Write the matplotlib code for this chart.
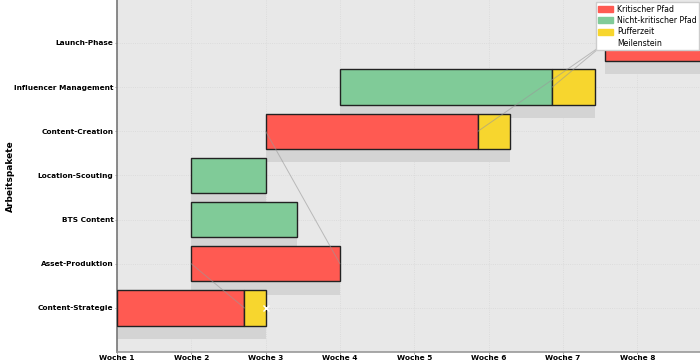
import numpy as np
import matplotlib.pyplot as plt
from matplotlib.patches import Patch
from matplotlib.lines import Line2D

# arbeitspakete (bottom to top), values in days
tasks = ['Content-Strategie', 'Asset-Produktion', 'BTS Content', 'Location-Scouting',
         'Content-Creation', 'Influencer Management', 'Launch-Phase']
start = [0, 7, 7, 7, 14, 21, 46]
duration = [12, 14, 10, 7, 20, 20, 10]
buffer = [2, 0, 0, 0, 3, 4, 0]
critical = [True, True, False, False, True, False, True]

# dependencies: (predecessor, successor)
deps = [(0, 1), (1, 4), (4, 6), (5, 6)]
milestones = [(14, 0)]

week_labels = ['Woche %d' % i for i in range(1, 9)]

c_crit = '#FF5A52'
c_norm = '#80CB98'
c_buf = '#F7D62E'

fig = plt.figure(figsize=(7, 3.63), dpi=100)
ax = fig.add_axes([0.167, 0.030, 0.833, 0.97])
ax.set_facecolor('#e8e8e8')

y = np.arange(len(tasks))
h = 0.8

for i in range(len(tasks)):
    total = duration[i] + buffer[i]
    # shadow
    ax.barh(y[i] - 0.3, total, left=start[i], height=h, color='#d4d4d4', zorder=1)
    col = c_crit if critical[i] else c_norm
    ax.barh(y[i], duration[i], left=start[i], height=h, color=col,
            edgecolor='#222222', linewidth=1.0, zorder=3)
    if buffer[i] > 0:
        ax.barh(y[i], buffer[i], left=start[i] + duration[i], height=h, color=c_buf,
                edgecolor='#222222', linewidth=1.0, zorder=3)

for a, b in deps:
    ax.plot([start[a] + duration[a], start[b]], [y[a], y[b]], color='#999999',
            lw=0.7, alpha=0.6, zorder=4)

for mx, my in milestones:
    ax.plot(mx, my, marker='x', color='white', ms=5, mew=1.0, zorder=5)

ax.set_xlim(0, 54.9)
ax.set_ylim(-1, 6.97)
ax.set_xticks(np.arange(0, 56, 7))
ax.set_xticklabels(week_labels, fontsize=5.3, fontweight='bold')
ax.set_yticks(y)
ax.set_yticklabels(tasks, fontsize=5.3, fontweight='bold')
ax.tick_params(length=1.5, width=0.6, colors='#999999', labelcolor='black', pad=1)
ax.tick_params(axis='x', pad=0.3)
ax.set_ylabel('Arbeitspakete', fontsize=6.5, fontweight='bold')
ax.yaxis.set_label_coords(-0.175, 0.5)

ax.grid(True, color='#d8d8d8', linestyle=':', linewidth=0.6, zorder=0)
ax.set_axisbelow(True)
for s in ['top', 'right']:
    ax.spines[s].set_visible(False)
ax.spines['left'].set_color('#777777')
ax.spines['left'].set_linewidth(1.2)
ax.spines['bottom'].set_color('#999999')
ax.spines['bottom'].set_linewidth(1.2)

handles = [Patch(color=c_crit, label='Kritischer Pfad'),
           Patch(color=c_norm, label='Nicht-kritischer Pfad'),
           Patch(color=c_buf, label='Pufferzeit'),
           Line2D([], [], marker='x', color='white', ls='none', label='Meilenstein')]
leg = ax.legend(handles=handles, loc='upper right', bbox_to_anchor=(1.003, 1.0),
                fontsize=5.6, frameon=True, fancybox=False, borderaxespad=0.3,
                handlelength=1.9, handleheight=0.8, labelspacing=0.3,
                handletextpad=0.6, borderpad=0.3)
leg.get_frame().set_facecolor('white')
leg.get_frame().set_edgecolor('#cccccc')
leg.get_frame().set_alpha(1)
leg.set_zorder(10)

fig.savefig('out.png', dpi=100)
